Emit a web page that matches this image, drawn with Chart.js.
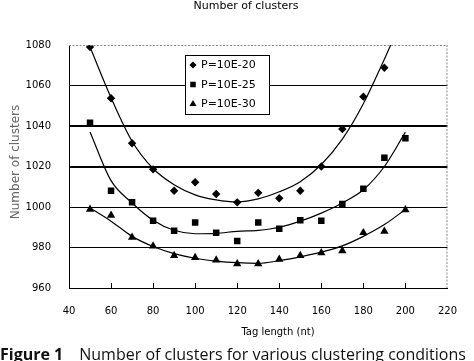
<!DOCTYPE html>
<html>
<head>
<meta charset="utf-8">
<script src="https://cdn.jsdelivr.net/npm/chart.js@4.4.1/dist/chart.umd.min.js"></script>
<style>
  html, body { margin: 0; padding: 0; background: #fff; overflow: hidden; }
  #wrap { position: relative; width: 474px; height: 361px; overflow: hidden; }
  #caption {
    position: absolute; left: 0; top: 344px;
    font-family: 'Open Sans', sans-serif; font-size: 16px; line-height: 20px;
    white-space: nowrap; color: #111;
  }
  #caption b { margin-right: 16px; }
</style>
</head>
<body>
<div id="wrap">
  <canvas id="chart" width="474" height="361"></canvas>
  <div id="caption"><b>Figure 1</b>Number of clusters for various clustering conditions</div>
</div>
<script>
// values
const tagLength = [50, 60, 70, 80, 90, 100, 110, 120, 130, 140, 150, 160, 170, 180, 190, 200];
const p20 = [1079, 1053.7, 1031.5, 1018.6, 1008, 1012.2, 1006.4, 1002.3, 1007, 1004.3, 1008, 1020, 1038.5, 1054.5, 1068.8, null];
const p25 = [1041.6, 1008, 1002.3, 993.2, 988.3, 992.4, 987.3, 983.2, 992.4, 989.3, 993.4, 993.2, 1001.5, 1009, 1024.3, 1033.9];
const p30 = [998.9, 995.9, 985, 980.7, 976, 975, 973.8, 971.9, 971.9, 974.2, 976, 977.4, 978.4, 987.3, 988, 998.6];

// trend curves
const fit20X = [50, 60, 70, 80, 90, 100, 110, 120, 130, 140, 150, 160, 170, 180, 190, 193];
const fit20 = [1079, 1054, 1032.5, 1019, 1011, 1006, 1003.5, 1002.5, 1004, 1007.5, 1012.5, 1021, 1033.5, 1051, 1073, 1080];
const fit25 = [1037, 1013, 1002, 993.5, 988.5, 986.8, 987, 988, 988.5, 990, 993, 997, 1002, 1008.5, 1020, 1037];
const fit30 = [999.5, 993, 985.5, 980.5, 977, 974.7, 973.3, 972.5, 972.2, 973.5, 975.4, 977.7, 980.8, 985.5, 991.3, 998.8];

const seriesLabels = ['P=10E-20', 'P=10E-25', 'P=10E-30'];
const xTicks = [40, 60, 80, 100, 120, 140, 160, 180, 200, 220];
const yTicks = [960, 980, 1000, 1020, 1040, 1060, 1080];

const pts = (xs, ys) => xs.map((x, i) => ({ x: x, y: ys[i] }));

Chart.defaults.font.family = "'DejaVu Sans', sans-serif";
Chart.defaults.color = '#000';

const markers = [
    { style: 'rectRot', radius: 4.2 },
    { style: 'rect', radius: 4.6 },
    { style: 'triangle', radius: 4.8 }
];

function markerSet(label, data, m) {
    return {
        label: label,
        data: data,
        showLine: false,
        pointStyle: m.style,
        pointRadius: m.radius,
        pointBackgroundColor: '#000',
        pointBorderWidth: 0
    };
}

function curveSet(data) {
    return {
        data: data,
        showLine: true,
        borderColor: '#000',
        borderWidth: 1.2,
        pointRadius: 0,
        cubicInterpolationMode: 'monotone',
        fill: false
    };
}

// frame, inside ticks, texts and boxed legend
const extras = {
    id: 'extras',
    afterDraw(chart) {
        const ctx = chart.ctx;
        const a = chart.chartArea;
        const xs = chart.scales.x;
        ctx.save();

        // dotted top and right border
        ctx.strokeStyle = '#888';
        ctx.lineWidth = 1;
        ctx.setLineDash([2, 1.5]);
        ctx.beginPath();
        ctx.moveTo(a.left, a.top + 0.5);
        ctx.lineTo(a.right, a.top + 0.5);
        ctx.moveTo(a.right - 0.5, a.top);
        ctx.lineTo(a.right - 0.5, a.bottom);
        ctx.stroke();
        ctx.setLineDash([]);

        // small ticks pointing into the plot
        ctx.strokeStyle = '#000';
        ctx.beginPath();
        xs.ticks.forEach(t => {
            if (t.value <= xs.min || t.value >= xs.max) return;
            const px = Math.round(xs.getPixelForValue(t.value)) + 0.5;
            ctx.moveTo(px, a.bottom);
            ctx.lineTo(px, a.bottom - 5);
        });
        ctx.stroke();

        // titles
        ctx.fillStyle = '#000';
        ctx.textAlign = 'center';
        ctx.textBaseline = 'middle';
        ctx.font = "11px 'DejaVu Sans', sans-serif";
        ctx.fillText('Number of clusters', 246, 6);
        ctx.font = "10px 'DejaVu Sans', sans-serif";
        ctx.fillText('Tag length (nt)', 278, 332);

        ctx.save();
        ctx.translate(16, 162);
        ctx.rotate(-Math.PI / 2);
        ctx.fillStyle = '#666';
        ctx.font = "12px 'DejaVu Sans', sans-serif";
        ctx.fillText('Number of clusters', 0, 0);
        ctx.restore();

        // legend box
        const bx = 185, by = 55, bw = 84, bh = 59;
        ctx.fillStyle = '#fff';
        ctx.fillRect(bx, by, bw, bh);
        ctx.strokeStyle = '#000';
        ctx.lineWidth = 1;
        ctx.strokeRect(bx + 0.5, by + 0.5, bw, bh);
        ctx.font = "11px 'DejaVu Sans', sans-serif";
        ctx.textAlign = 'left';
        seriesLabels.forEach((lab, i) => {
            const y = by + 10 + i * 19.5;
            ctx.fillStyle = '#000';
            Chart.helpers.drawPoint(ctx, {
                pointStyle: markers[i].style,
                radius: markers[i].radius * 0.85,
                rotation: 0,
                borderWidth: 0
            }, bx + 8, y);
            ctx.fillStyle = '#000';
            ctx.fillText(lab, bx + 16, y + 0.5);
        });

        ctx.restore();
    }
};

new Chart(document.getElementById('chart'), {
    type: 'scatter',
    data: {
        datasets: [
            markerSet(seriesLabels[0], pts(tagLength, p20), markers[0]),
            markerSet(seriesLabels[1], pts(tagLength, p25), markers[1]),
            markerSet(seriesLabels[2], pts(tagLength, p30), markers[2]),
            curveSet(pts(fit20X, fit20)),
            curveSet(pts(tagLength, fit25)),
            curveSet(pts(tagLength, fit30))
        ]
    },
    options: {
        responsive: false,
        animation: false,
        layout: { padding: { top: 45, right: 7, left: 0, bottom: 0 } },
        plugins: {
            legend: { display: false },
            tooltip: { enabled: false },
            title: { display: false }
        },
        scales: {
            x: {
                type: 'linear',
                min: xTicks[0],
                max: xTicks[xTicks.length - 1],
                afterBuildTicks: s => { s.ticks = xTicks.map(v => ({ value: v })); },
                afterFit: s => { s.height = 73; },
                ticks: { padding: 17, font: { size: 10 }, color: '#000', maxRotation: 0, callback: v => String(v) },
                grid: { drawOnChartArea: false, drawTicks: false },
                border: { display: true, color: '#000', width: 1 }
            },
            y: {
                min: yTicks[0],
                max: yTicks[yTicks.length - 1],
                afterBuildTicks: s => { s.ticks = yTicks.map(v => ({ value: v })); },
                afterFit: s => { s.width = 69; },
                ticks: { padding: 18, font: { size: 10 }, color: '#000', callback: v => String(v) },
                grid: {
                    drawTicks: false,
                    color: '#000',
                    lineWidth: c => {
                        const v = c.tick.value;
                        if (v === 1080 || v === 960) return 0;
                        if (v === 1040 || v === 1020) return 2;
                        return 1;
                    }
                },
                border: { display: true, color: '#000', width: 1 }
            }
        }
    },
    plugins: [extras]
});
</script>
</body>
</html>
